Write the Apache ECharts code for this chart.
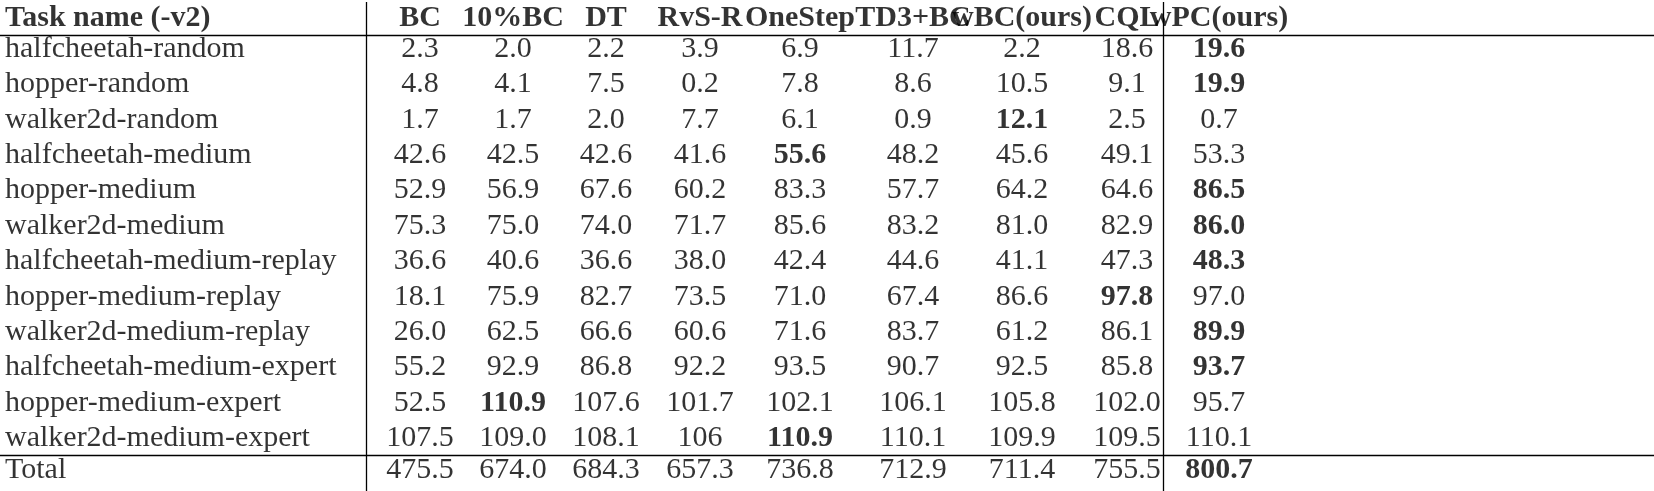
<!DOCTYPE html>
<html>
<head>
<meta charset="utf-8">
<script src="https://cdn.jsdelivr.net/npm/echarts@6/dist/echarts.min.js"></script>
<style>html,body{margin:0;padding:0;background:#fff}</style>
</head>
<body>
<div id="chart" style="width:1654px;height:491px"></div>
<script>
// table content
var headers = ['Task name (-v2)', 'BC', '10%BC', 'DT', 'RvS-R', 'OneStep', 'TD3+BC', 'wBC(ours)', 'CQL', 'wPC(ours)'];
var tasks = ['halfcheetah-random', 'hopper-random', 'walker2d-random', 'halfcheetah-medium', 'hopper-medium',
  'walker2d-medium', 'halfcheetah-medium-replay', 'hopper-medium-replay', 'walker2d-medium-replay',
  'halfcheetah-medium-expert', 'hopper-medium-expert', 'walker2d-medium-expert', 'Total'];
var BC      = ['2.3','4.8','1.7','42.6','52.9','75.3','36.6','18.1','26.0','55.2','52.5','107.5','475.5'];
var BC10    = ['2.0','4.1','1.7','42.5','56.9','75.0','40.6','75.9','62.5','92.9','110.9','109.0','674.0'];
var DT      = ['2.2','7.5','2.0','42.6','67.6','74.0','36.6','82.7','66.6','86.8','107.6','108.1','684.3'];
var RvSR    = ['3.9','0.2','7.7','41.6','60.2','71.7','38.0','73.5','60.6','92.2','101.7','106','657.3'];
var OneStep = ['6.9','7.8','6.1','55.6','83.3','85.6','42.4','71.0','71.6','93.5','102.1','110.9','736.8'];
var TD3BC   = ['11.7','8.6','0.9','48.2','57.7','83.2','44.6','67.4','83.7','90.7','106.1','110.1','712.9'];
var wBC     = ['2.2','10.5','12.1','45.6','64.2','81.0','41.1','86.6','61.2','92.5','105.8','109.9','711.4'];
var CQL     = ['18.6','9.1','2.5','49.1','64.6','82.9','47.3','97.8','86.1','85.8','102.0','109.5','755.5'];
var wPC     = ['19.6','19.9','0.7','53.3','86.5','86.0','48.3','97.0','89.9','93.7','95.7','110.1','800.7'];
// bold cells as [column, row]
var boldCells = [[9,0],[9,1],[7,2],[5,3],[9,4],[9,5],[9,6],[8,7],[9,8],[9,9],[2,10],[5,11],[9,12]];

// layout
var colX = [5, 420, 513, 606, 700, 800, 913, 1022, 1127, 1219];
var headY = 18, firstY = 49, rowH = 35.4, totalY = 470;
function rowY(i) { return i === tasks.length - 1 ? totalY : firstY + rowH * i; }

var columns = [tasks, BC, BC10, DT, RvSR, OneStep, TD3BC, wBC, CQL, wPC];
var cells = [];
headers.forEach(function (h, c) {
  cells.push({ value: [colX[c], headY], name: h, label: { fontWeight: 'bold', align: c === 0 ? 'left' : 'center' } });
});
columns.forEach(function (col, c) {
  col.forEach(function (v, r) {
    var bold = boldCells.some(function (b) { return b[0] === c && b[1] === r; });
    cells.push({ value: [colX[c], rowY(r)], name: v,
      label: { fontWeight: bold ? 'bold' : 'normal', align: c === 0 ? 'left' : 'center' } });
  });
});

var chart = echarts.init(document.getElementById('chart'));
chart.setOption({
  animation: false,
  grid: { left: 0, right: 0, top: 0, bottom: 0 },
  xAxis: { type: 'value', min: 0, max: 1654, show: false },
  yAxis: { type: 'value', min: 0, max: 491, inverse: true, show: false },
  series: [{
    type: 'scatter',
    symbolSize: 0,
    data: cells,
    label: {
      show: true, position: 'inside', verticalAlign: 'middle',
      formatter: function (p) { return p.name; },
      fontFamily: 'Liberation Serif', fontSize: 30, color: '#000'
    },
    markLine: {
      symbol: 'none', silent: true,
      lineStyle: { color: '#000', width: 1.3, type: 'solid' },
      label: { show: false },
      data: [
        [{ coord: [0, 35] }, { coord: [1654, 35] }],
        [{ coord: [0, 455] }, { coord: [1654, 455] }],
        [{ coord: [366, 2] }, { coord: [366, 491] }],
        [{ coord: [1163, 2] }, { coord: [1163, 491] }]
      ]
    }
  }]
});
</script>
</body>
</html>
